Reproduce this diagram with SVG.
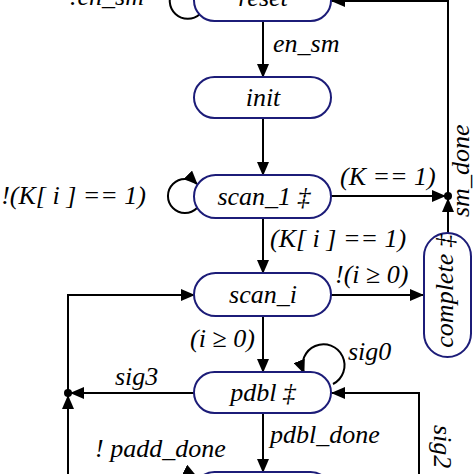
<svg xmlns="http://www.w3.org/2000/svg" width="474" height="474" viewBox="0 0 474 474">
<style>
.node{fill:#fff;stroke:#1c1c78;stroke-width:2}
.t{font-family:"Liberation Serif","Times New Roman",serif;font-style:italic;font-size:26px;fill:#000}
.c{fill:none;stroke:#000;stroke-width:2}
</style>
<defs>
<marker id="ah" markerWidth="14" markerHeight="12" refX="13" refY="6" orient="auto" markerUnits="userSpaceOnUse">
<path d="M0,0 L14,6 L0,12 Z" fill="#000"/>
</marker>
</defs>
<rect width="474" height="474" fill="#fff"/>
<g id="connectors">
<path class="c" d="M200 14 A18 18 0 1 1 198 -14"/>
<line class="c" x1="263" y1="21" x2="263" y2="77" marker-end="url(#ah)"/>
<line class="c" x1="263" y1="118" x2="263" y2="175" marker-end="url(#ah)"/>
<path class="c" d="M197 208 A17 17 0 1 1 197 184" marker-end="url(#ah)"/>
<line class="c" x1="331" y1="196" x2="445" y2="196" marker-end="url(#ah)"/>
<line class="c" x1="448" y1="233" x2="448" y2="199" marker-end="url(#ah)"/>
<polyline class="c" points="448,196 448,1 332,1" marker-end="url(#ah)"/>
<line class="c" x1="263" y1="218" x2="263" y2="273" marker-end="url(#ah)"/>
<line class="c" x1="331" y1="295" x2="423" y2="295" marker-end="url(#ah)"/>
<line class="c" x1="263" y1="316" x2="263" y2="372" marker-end="url(#ah)"/>
<path class="c" d="M333 384 A21 21 0 1 0 304 373" marker-end="url(#ah)"/>
<polyline class="c" points="68,393 68,295 194,295" marker-end="url(#ah)"/>
<line class="c" x1="194" y1="393" x2="71" y2="393" marker-end="url(#ah)"/>
<line class="c" x1="68" y1="474" x2="68" y2="396" marker-end="url(#ah)"/>
<polyline class="c" points="419,474 419,393 332,393" marker-end="url(#ah)"/>
<line class="c" x1="263" y1="413" x2="263" y2="472" marker-end="url(#ah)"/>
<path class="c" d="M198 505 A17 17 0 1 1 196 476" marker-end="url(#ah)"/>
<circle cx="448" cy="196" r="4" fill="#000"/>
<circle cx="68" cy="393" r="4" fill="#000"/>
</g>
<g id="reset"><rect class="node" x="194" y="-20" width="137" height="41" rx="20.5"/><text class="t" x="263" y="6" text-anchor="middle">reset</text></g>
<g id="init"><rect class="node" x="194" y="77" width="137" height="41" rx="20.5"/><text class="t" x="263" y="106" text-anchor="middle">init</text></g>
<g id="scan_1"><rect class="node" x="194" y="175" width="137" height="43" rx="21.5"/><text class="t" x="264" y="205" text-anchor="middle">scan_1 ‡</text></g>
<g id="scan_i"><rect class="node" x="194" y="273" width="137" height="43" rx="21.5"/><text class="t" x="263" y="303" text-anchor="middle">scan_i</text></g>
<g id="pdbl"><rect class="node" x="194" y="372" width="137" height="41" rx="20.5"/><text class="t" x="263" y="401" text-anchor="middle">pdbl ‡</text></g>
<g id="padd"><rect class="node" x="194" y="472" width="137" height="41" rx="20.5"/></g>
<g id="complete"><rect class="node" x="424" y="233" width="47" height="124" rx="23.5"/><text class="t" transform="translate(453,291) rotate(-90)" text-anchor="middle">complete ‡</text></g>
<g id="labels">
<text class="t" x="144" y="5" text-anchor="end">!en_sm</text>
<text class="t" x="273" y="52">en_sm</text>
<text class="t" x="146" y="204" text-anchor="end">!(K[ i ] == 1)</text>
<text class="t" x="340" y="185">(K == 1)</text>
<text class="t" x="270" y="247">(K[ i ] == 1)</text>
<text class="t" x="335" y="283">!(i ≥ 0)</text>
<text class="t" x="190" y="347">(i ≥ 0)</text>
<text class="t" x="348" y="360">sig0</text>
<text class="t" x="115" y="385">sig3</text>
<text class="t" x="270" y="443">pdbl_done</text>
<text class="t" x="95" y="457">! padd_done</text>
<text class="t" transform="translate(434,425) rotate(90)">sig2</text>
<text class="t" transform="translate(469,217) rotate(-90)">sm_done</text>
</g>
</svg>
